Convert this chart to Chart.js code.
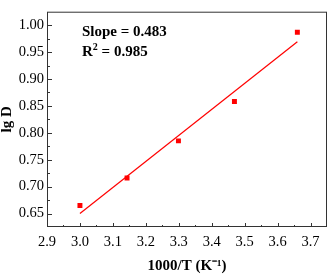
<!DOCTYPE html>
<html>
<head>
<meta charset="utf-8">
<script src="https://cdn.jsdelivr.net/npm/chart.js@4/dist/chart.umd.min.js"></script>
<style>
  body { margin: 0; background: #fff; }
  canvas { display: block; }
</style>
</head>
<body>
<canvas id="diffChart" width="331" height="275"></canvas>
<script>
// measured points (1000/T vs lg D)
const invTemp = [3.0, 3.143, 3.299, 3.469, 3.66];
const lgD = [0.665, 0.716, 0.785, 0.858, 0.987];

// linear fit drawn by the original plot
const fitX = [3.0, 3.66];
const fitY = [0.650, 0.969];

const xTicks = [2.9, 3.0, 3.1, 3.2, 3.3, 3.4, 3.5, 3.6, 3.7];
const yTicks = [0.65, 0.70, 0.75, 0.80, 0.85, 0.90, 0.95, 1.00];

const slopeText = 'Slope = 0.483';
const r2Value = ' = 0.985';

const serif = "'Liberation Serif', 'Times New Roman', serif";
const red = '#ff0000';

// frame + inward ticks, like the origin style plot
const framePlugin = {
    id: 'frame',
    afterDraw(chart) {
        const ctx = chart.ctx;
        const area = chart.chartArea;
        const xs = chart.scales.x;
        const ys = chart.scales.y;

        ctx.save();
        ctx.strokeStyle = '#333';
        ctx.lineWidth = 1;
        ctx.strokeRect(area.left + 0.5, area.top + 0.5, area.right - area.left - 1, area.bottom - area.top - 1);

        ctx.beginPath();
        xTicks.forEach((v, i) => {
            const px = Math.round(xs.getPixelForValue(v)) + 0.5;
            ctx.moveTo(px, area.bottom);
            ctx.lineTo(px, area.bottom - 4);
            const mid = v + 0.05;
            if (i < xTicks.length - 1 || mid < xs.max) {
                const mx = Math.round(xs.getPixelForValue(mid)) + 0.5;
                ctx.moveTo(mx, area.bottom);
                ctx.lineTo(mx, area.bottom - 2);
            }
        });
        yTicks.forEach((v, i) => {
            const py = Math.round(ys.getPixelForValue(v)) + 0.5;
            ctx.moveTo(area.left, py);
            ctx.lineTo(area.left + 5, py);
            const mid = v + 0.025;
            if (i < yTicks.length - 1) {
                const my = Math.round(ys.getPixelForValue(mid)) + 0.5;
                ctx.moveTo(area.left, my);
                ctx.lineTo(area.left + 3, my);
            }
        });
        const lowMid = Math.round(ys.getPixelForValue(yTicks[0] - 0.025)) + 0.5;
        if (lowMid < area.bottom - 1) {
            ctx.moveTo(area.left, lowMid);
            ctx.lineTo(area.left + 3, lowMid);
        }
        ctx.stroke();

        // fit annotation
        ctx.fillStyle = '#000';
        ctx.textBaseline = 'alphabetic';
        ctx.font = 'bold 15px ' + serif;
        ctx.fillText(slopeText, 82, 36);
        ctx.fillText('R', 82, 56);
        let x = 82 + ctx.measureText('R').width;
        ctx.font = 'bold 10px ' + serif;
        ctx.fillText('2', x, 50);
        x += ctx.measureText('2').width;
        ctx.font = 'bold 15px ' + serif;
        ctx.fillText(r2Value, x, 56);
        ctx.restore();
    }
};

const ctx = document.getElementById('diffChart').getContext('2d');

new Chart(ctx, {
    type: 'scatter',
    data: {
        datasets: [
            {
                label: 'data',
                data: invTemp.map((x, i) => ({ x: x, y: lgD[i] })),
                pointStyle: 'rect',
                pointRadius: 3.5,
                backgroundColor: red,
                borderColor: red,
                borderWidth: 0,
                showLine: false
            },
            {
                label: 'fit',
                data: fitX.map((x, i) => ({ x: x, y: fitY[i] })),
                showLine: true,
                borderColor: red,
                borderWidth: 1.2,
                pointRadius: 0,
                fill: false
            }
        ]
    },
    options: {
        responsive: false,
        animation: false,
        layout: { padding: { top: 2, right: 3, left: 0, bottom: 0 } },
        plugins: {
            legend: { display: false },
            tooltip: { enabled: false }
        },
        scales: {
            x: {
                type: 'linear',
                min: 2.9,
                max: 3.75,
                grid: { display: false, drawTicks: false },
                border: { display: false },
                afterBuildTicks: (scale) => { scale.ticks = xTicks.map(v => ({ value: v })); },
                afterFit: (scale) => { scale.height = 48; },
                ticks: {
                    padding: 6,
                    color: '#000',
                    font: { family: serif, size: 14.5 },
                    maxRotation: 0,
                    callback: (v) => Number(v).toFixed(1)
                },
                title: {
                    display: true,
                    text: '1000/T (K\u207b\u00b9)',
                    color: '#000',
                    padding: { top: 0, bottom: 1 },
                    font: { family: serif, size: 15, weight: 'bold', lineHeight: 1 }
                }
            },
            y: {
                type: 'linear',
                min: 0.625,
                max: 1.025,
                grid: { display: false, drawTicks: false },
                border: { display: false },
                afterBuildTicks: (scale) => { scale.ticks = yTicks.map(v => ({ value: v })); },
                afterFit: (scale) => { scale.width = 47; },
                ticks: {
                    padding: 3,
                    color: '#000',
                    font: { family: serif, size: 14.5 },
                    callback: (v) => Number(v).toFixed(2)
                },
                title: {
                    display: true,
                    text: 'lg D',
                    color: '#000',
                    padding: 0,
                    font: { family: serif, size: 15, weight: 'bold', lineHeight: 1 }
                }
            }
        }
    },
    plugins: [framePlugin]
});
</script>
</body>
</html>
